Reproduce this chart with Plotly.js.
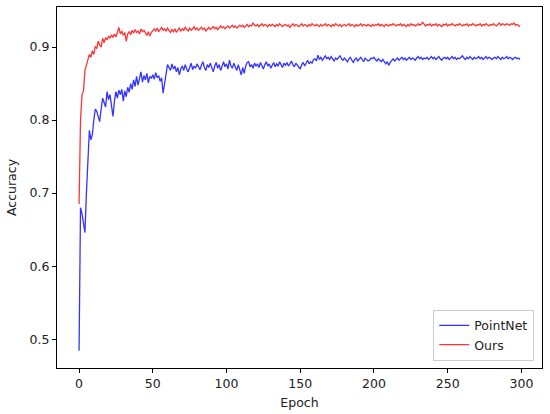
<!DOCTYPE html>
<html>
<head>
<meta charset="utf-8">
<script src="https://cdn.plot.ly/plotly-3.0.1.min.js"></script>
<style>html,body{margin:0;padding:0;background:#fff;}#chart{width:550px;height:414px;}</style>
</head>
<body>
<div id="chart"></div>
<script>
const pointnetAcc = [
0.484,0.680,0.672,0.660,0.646,0.700,0.741,0.786,0.773,0.780,
0.800,0.815,0.812,0.805,0.798,0.815,0.830,0.824,0.818,0.839,
0.828,0.835,0.822,0.805,0.826,0.839,0.830,0.841,0.835,0.842,
0.826,0.840,0.832,0.845,0.838,0.850,0.842,0.855,0.846,0.860,
0.848,0.858,0.866,0.852,0.861,0.855,0.864,0.851,0.860,0.857,
0.862,0.856,0.865,0.858,0.861,0.853,0.858,0.837,0.850,0.866,
0.876,0.872,0.868,0.877,0.870,0.874,0.866,0.872,0.862,0.870,
0.874,0.868,0.876,0.870,0.866,0.872,0.878,0.869,0.874,0.871,
0.877,0.873,0.869,0.875,0.880,0.872,0.868,0.876,0.872,0.878,
0.870,0.866,0.874,0.879,0.871,0.876,0.868,0.875,0.880,0.873,
0.877,0.870,0.882,0.874,0.871,0.878,0.873,0.868,0.876,0.870,
0.862,0.872,0.864,0.874,0.879,0.880,0.873,0.876,0.871,0.878,
0.874,0.877,0.872,0.879,0.875,0.870,0.876,0.880,0.874,0.877,
0.871,0.876,0.879,0.873,0.877,0.874,0.880,0.876,0.872,0.878,
0.875,0.879,0.874,0.877,0.881,0.876,0.873,0.878,0.875,0.872,
0.870,0.876,0.879,0.874,0.878,0.882,0.877,0.880,0.878,0.883,
0.884,0.881,0.889,0.883,0.886,0.882,0.885,0.888,0.884,0.886,
0.883,0.887,0.884,0.881,0.885,0.883,0.886,0.888,0.884,0.882,
0.885,0.883,0.880,0.884,0.886,0.882,0.879,0.883,0.885,0.881,
0.884,0.886,0.883,0.880,0.885,0.883,0.881,0.882,0.885,0.884,
0.886,0.883,0.881,0.884,0.882,0.880,0.883,0.879,0.877,0.880,
0.875,0.879,0.882,0.884,0.881,0.883,0.885,0.882,0.884,0.886,
0.883,0.885,0.882,0.884,0.886,0.883,0.885,0.884,0.882,0.885,
0.887,0.884,0.886,0.883,0.885,0.884,0.886,0.883,0.885,0.887,
0.884,0.886,0.883,0.885,0.887,0.884,0.882,0.885,0.886,0.884,
0.886,0.883,0.885,0.887,0.884,0.886,0.883,0.885,0.884,0.886,
0.888,0.885,0.883,0.886,0.884,0.887,0.885,0.883,0.886,0.884,
0.885,0.887,0.884,0.886,0.883,0.885,0.887,0.884,0.886,0.885,
0.883,0.885,0.886,0.884,0.887,0.885,0.883,0.886,0.884,0.885,
0.887,0.884,0.886,0.885,0.883,0.885,0.886,0.884,0.885,0.883
];
const oursAcc = [
0.685,0.800,0.835,0.840,0.868,0.876,0.884,0.890,0.886,0.895,
0.890,0.901,0.898,0.908,0.903,0.900,0.912,0.906,0.913,0.910,
0.915,0.912,0.917,0.913,0.918,0.914,0.920,0.927,0.918,0.922,
0.916,0.920,0.908,0.918,0.921,0.917,0.923,0.919,0.924,0.920,
0.922,0.918,0.925,0.921,0.923,0.919,0.916,0.921,0.915,0.920,
0.923,0.925,0.922,0.926,0.921,0.924,0.927,0.923,0.925,0.922,
0.926,0.923,0.920,0.924,0.921,0.925,0.920,0.923,0.926,0.922,
0.925,0.923,0.927,0.924,0.922,0.926,0.923,0.925,0.928,0.924,
0.926,0.923,0.925,0.927,0.924,0.926,0.922,0.925,0.927,0.924,
0.926,0.928,0.925,0.927,0.924,0.926,0.929,0.926,0.928,0.925,
0.927,0.929,0.926,0.928,0.930,0.927,0.929,0.926,0.928,0.930,
0.928,0.930,0.927,0.929,0.931,0.928,0.930,0.929,0.933,0.930,
0.929,0.931,0.928,0.930,0.932,0.929,0.931,0.930,0.928,0.931,
0.929,0.931,0.930,0.928,0.931,0.929,0.932,0.930,0.928,0.930,
0.931,0.929,0.930,0.927,0.930,0.932,0.929,0.931,0.930,0.928,
0.930,0.932,0.929,0.931,0.930,0.928,0.931,0.929,0.932,0.930,
0.929,0.931,0.930,0.928,0.931,0.929,0.930,0.932,0.929,0.931,
0.930,0.928,0.931,0.929,0.932,0.930,0.929,0.931,0.928,0.930,
0.931,0.929,0.930,0.932,0.929,0.931,0.930,0.928,0.931,0.929,
0.930,0.932,0.929,0.931,0.930,0.929,0.931,0.930,0.928,0.931,
0.929,0.931,0.930,0.932,0.929,0.931,0.930,0.928,0.931,0.930,
0.929,0.931,0.930,0.932,0.930,0.929,0.931,0.930,0.932,0.929,
0.931,0.930,0.928,0.931,0.929,0.932,0.930,0.931,0.929,0.930,
0.932,0.930,0.931,0.934,0.931,0.929,0.931,0.930,0.932,0.929,
0.931,0.930,0.932,0.929,0.931,0.930,0.928,0.931,0.930,0.932,
0.929,0.931,0.930,0.932,0.930,0.929,0.931,0.930,0.932,0.931,
0.929,0.931,0.930,0.932,0.929,0.931,0.930,0.932,0.931,0.929,
0.931,0.930,0.932,0.929,0.931,0.930,0.932,0.931,0.929,0.931,
0.930,0.932,0.931,0.929,0.931,0.933,0.930,0.932,0.931,0.930,
0.932,0.931,0.930,0.932,0.931,0.933,0.930,0.931,0.930,0.928
];
const seriesNames = ['PointNet', 'Ours'];
const xTicks = [0, 50, 100, 150, 200, 250, 300];
const yTicks = [0.5, 0.6, 0.7, 0.8, 0.9];

const epochs = pointnetAcc.map((_, i) => i);
const font = {family: 'DejaVu Sans, sans-serif', size: 12.5, color: '#222'};

const traces = [
  {x: epochs, y: pointnetAcc, name: seriesNames[0], type: 'scatter', mode: 'lines',
   line: {color: 'rgba(0,0,255,0.8)', width: 1.3}},
  {x: epochs, y: oursAcc, name: seriesNames[1], type: 'scatter', mode: 'lines',
   line: {color: 'rgba(255,0,0,0.8)', width: 1.3}}
];

const layout = {
  width: 550, height: 414,
  margin: {l: 57, r: 8, t: 7, b: 46},
  paper_bgcolor: '#fff', plot_bgcolor: '#fff',
  font: font,
  showlegend: true,
  legend: {x: 0.984, y: 0.02, xanchor: 'right', yanchor: 'bottom',
    bgcolor: 'rgba(255,255,255,0.8)', bordercolor: '#cccccc', borderwidth: 1,
    font: font, tracegroupgap: 0},
  xaxis: {range: [-14.95, 313.95], tickvals: xTicks, ticks: 'outside', ticklen: 4,
    tickcolor: '#000', showline: true, linecolor: '#000', linewidth: 1, mirror: true,
    showgrid: false, zeroline: false, tickfont: font,
    title: {text: 'Epoch', font: font, standoff: 8}, automargin: false},
  yaxis: {range: [0.4605, 0.9549], tickvals: yTicks, tickformat: '.1f', ticks: 'outside', ticklen: 4,
    tickcolor: '#000', showline: true, linecolor: '#000', linewidth: 1, mirror: true,
    showgrid: false, zeroline: false, tickfont: font,
    title: {text: 'Accuracy', font: font, standoff: 10}, automargin: false}
};

Plotly.newPlot('chart', traces, layout, {displayModeBar: false, staticPlot: true});
</script>
</body>
</html>
